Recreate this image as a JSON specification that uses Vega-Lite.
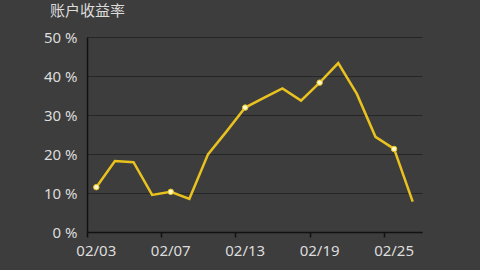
{
  "$schema": "https://vega.github.io/schema/vega-lite/v6.json",
  "width": 335,
  "height": 195,
  "autosize": {"type": "none"},
  "padding": {"left": 87, "top": 37, "right": 58, "bottom": 38},
  "background": "#3d3d3d",
  "config": {
    "view": {"stroke": null},
    "font": "Noto Sans"
  },
  "data": {
    "values": [
      {"date": "02/03", "rate": 11.5},
      {"date": "02/04", "rate": 18.2},
      {"date": "02/05", "rate": 17.9},
      {"date": "02/06", "rate": 9.5},
      {"date": "02/07", "rate": 10.3},
      {"date": "02/10", "rate": 8.5},
      {"date": "02/11", "rate": 19.9},
      {"date": "02/12", "rate": 25.8},
      {"date": "02/13", "rate": 31.9},
      {"date": "02/14", "rate": 34.4},
      {"date": "02/17", "rate": 36.8},
      {"date": "02/18", "rate": 33.7},
      {"date": "02/19", "rate": 38.3},
      {"date": "02/20", "rate": 43.3},
      {"date": "02/21", "rate": 35.4},
      {"date": "02/24", "rate": 24.4},
      {"date": "02/25", "rate": 21.3},
      {"date": "02/26", "rate": 7.8}
    ]
  },
  "encoding": {
    "x": {
      "field": "date",
      "type": "ordinal",
      "sort": null,
      "scale": {"type": "band", "paddingInner": 0, "paddingOuter": 0},
      "axis": {
        "title": null,
        "values": ["02/03", "02/07", "02/13", "02/19", "02/25"],
        "bandPosition": 0,
        "labelAlign": "center",
        "labelAngle": 0,
        "labelFont": "Noto Sans",
        "labelFontSize": 15,
        "labelColor": "#dcdcdc",
        "labelPadding": 6,
        "tickColor": "#111111",
        "tickSize": 5,
        "tickWidth": 1.5,
        "domainColor": "#111111",
        "domainWidth": 1.5,
        "grid": false
      }
    },
    "y": {
      "field": "rate",
      "type": "quantitative",
      "scale": {"domain": [0, 50], "nice": false},
      "axis": {
        "title": "账户收益率",
        "titleFont": "Noto Sans CJK SC",
        "titleFontSize": 15,
        "titleFontWeight": "normal",
        "titleColor": "#dcdcdc",
        "titleAngle": 0,
        "titleAlign": "center",
        "titleBaseline": "middle",
        "titleX": 0,
        "titleY": -27,
        "values": [0, 10, 20, 30, 40, 50],
        "labelExpr": "datum.value + ' %'",
        "labelFont": "Noto Sans",
        "labelFontSize": 15,
        "labelColor": "#dcdcdc",
        "labelPadding": 10,
        "ticks": false,
        "domainColor": "#111111",
        "domainWidth": 1.5,
        "grid": true,
        "gridColor": "#262626",
        "gridWidth": 1.2
      }
    }
  },
  "layer": [
    {
      "mark": {"type": "line", "color": "#e9c21f", "strokeWidth": 2.5, "strokeJoin": "miter"}
    },
    {
      "transform": [{"filter": {"field": "date", "oneOf": ["02/03", "02/07", "02/13", "02/19", "02/25"]}}],
      "mark": {"type": "point", "filled": true, "fill": "#fff8c8", "stroke": "#e9c21f", "strokeWidth": 1, "size": 30, "opacity": 1}
    }
  ]
}
